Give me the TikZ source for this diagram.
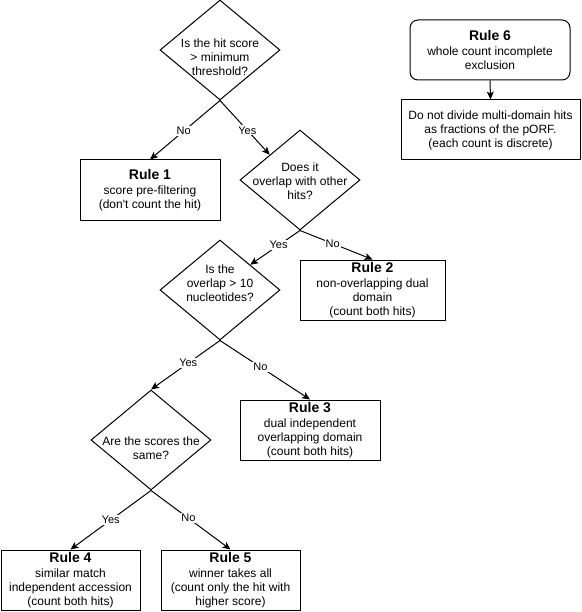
\documentclass[tikz,border=0pt]{standalone}
\usepackage{fontspec}
\setmainfont{Liberation Sans}
\usetikzlibrary{shapes.geometric,arrows.meta,calc}
\begin{document}
\begin{tikzpicture}[x=1pt,y=-1pt,
  every node/.style={font=\fontsize{12}{14}\selectfont},
  dia/.style={draw,line width=1pt,diamond,minimum width=120pt,minimum height=100pt,inner sep=0pt},
  dtxt/.style={align=center,inner sep=0pt},
  rulebox/.style={draw,line width=1pt,minimum width=#1,minimum height=60pt,align=center,inner sep=0pt},
  rtitle/.style={},
  arr/.style={-{Stealth[length=8pt,width=7pt,inset=2pt]},line width=1pt},
  lbl/.style={fill=white,inner sep=1pt,font=\fontsize{11}{12}\selectfont},
]
\newcommand{\rtl}[1]{{\fontsize{14}{16}\selectfont\bfseries #1}}
\useasboundingbox (0,0) rectangle (581,612);

% decisions
\node[dia] (d1) at (220,50) {};
\node[dtxt] (t1) at (220,57) {Is the hit score\\> minimum\\threshold?};
\node[dia] (d2) at (300,180) {};
\node[dtxt] (t2) at (300,181) {Does it\\overlap with other\\hits?};
\node[dia] (d3) at (220,290) {};
\node[dtxt] (t3) at (220,283) {Is the\\overlap > 10\\nucleotides?};
\node[dia] (d4) at (151,440) {};
\node[dtxt] (t4) at (151,448) {Are the scores the\\same?};

% rules
\node[rulebox=140pt] (r1) at (150,190) {\rtl{Rule 1}\\[1pt]score pre-filtering\\(don\textquotesingle t count the hit)};
\node[rulebox=145pt] (r2) at (372.5,290) {\rtl{Rule 2}\\[1pt]non-overlapping dual\\domain\\(count both hits)};
\node[rulebox=140pt] (r3) at (310,430) {\rtl{Rule 3}\\[1pt]dual independent\\overlapping domain\\(count both hits)};
\node[rulebox=139pt] (r4) at (70.5,580) {\rtl{Rule 4}\\[1pt]similar match\\independent accession\\(count both hits)};
\node[rulebox=139pt] (r5) at (230.5,580) {\rtl{Rule 5}\\[1pt]winner takes all\\(count only the hit with\\higher score)};
\node[rulebox=160pt,rounded corners=8pt] (r6) at (490,50) {\rtl{Rule 6}\\[1pt]whole count incomplete\\exclusion};
\node[rulebox=179pt] (r7) at (490.5,130) {Do not divide multi-domain hits\\as fractions of the pORF.\\(each count is discrete)};

% connectors
\draw[arr] (d1.south) -- node[lbl,pos=0.52]{No} (r1.north);
\draw[arr] (d1.south) -- node[lbl,pos=0.55]{Yes} ($(d2.north)!0.5!(d2.west)$);
\draw[arr] (d2.south) -- node[lbl,pos=0.43]{Yes} ($(d3.north)!0.5!(d3.east)$);
\draw[arr] (d2.south) -- node[lbl,pos=0.45]{No} (r2.north);
\draw[arr] (d3.south) -- node[lbl,pos=0.46]{Yes} (d4.north);
\draw[arr] (d3.south) -- node[lbl,pos=0.45]{No} (r3.north);
\draw[arr] (d4.south) -- node[lbl,pos=0.5]{Yes} (r4.north);
\draw[arr] (d4.south) -- node[lbl,pos=0.47]{No} (r5.north);
\draw[arr] (r6.south) -- (r7.north);
\end{tikzpicture}
\end{document}
